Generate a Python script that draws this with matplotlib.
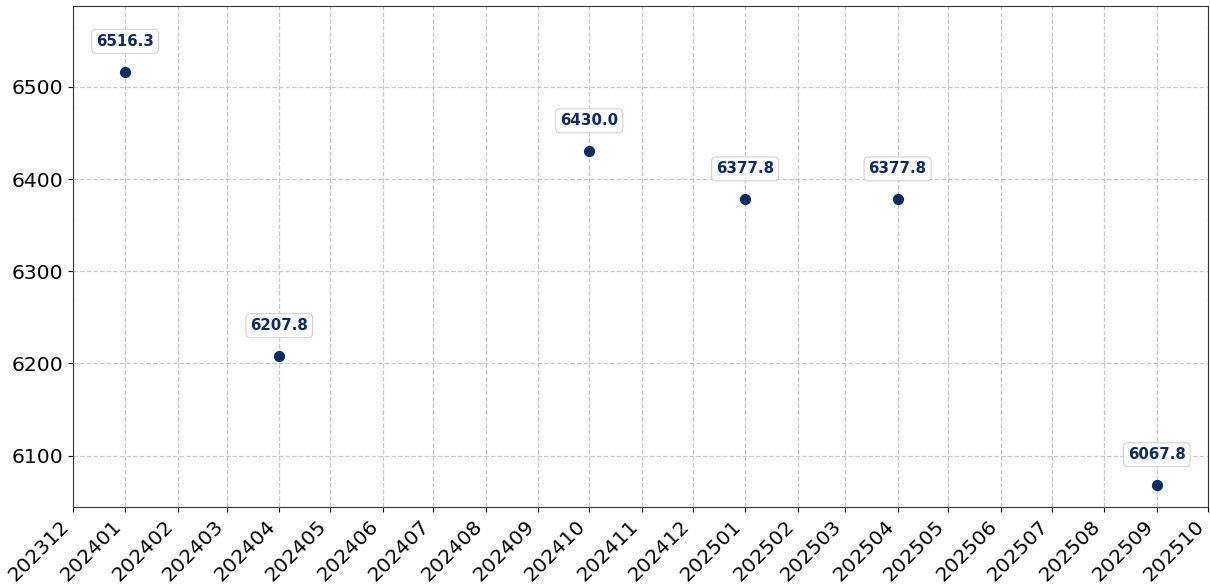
import matplotlib
matplotlib.use("Agg")
import matplotlib.pyplot as plt
import matplotlib.dates as mdates
import numpy as np
from datetime import datetime

# Data
months = ["2024-01", "2024-04", "2024-10", "2025-01", "2025-04", "2025-09"]
values = [6516.3, 6207.8, 6430.0, 6377.8, 6377.8, 6067.8]

dates = [datetime.strptime(m, "%Y-%m") for m in months]
point_color = "#0d2b5e"

fig, ax = plt.subplots(figsize=(12.1, 5.85), dpi=100)
fig.subplots_adjust(left=0.060, right=0.998, top=0.990, bottom=0.134)

ax.scatter(dates, values, s=50, color=point_color, zorder=3)

# Value labels above each point
for d, v in zip(dates, values):
    ax.annotate(f"{v:.1f}", (d, v), xytext=(0, 22), textcoords="offset points",
                ha="center", va="center", fontsize=10.8, fontweight="bold",
                color=point_color,
                bbox=dict(boxstyle="round,pad=0.3", fc="white", ec="#d0d0d0", lw=0.8))

ax.set_xlim(datetime(2023, 12, 1), datetime(2025, 10, 1))
ax.set_ylim(6044.7, 6587.8)
ax.set_yticks([6100, 6200, 6300, 6400, 6500])

ax.xaxis.set_major_locator(mdates.MonthLocator())
ax.xaxis.set_major_formatter(mdates.DateFormatter("%Y%m"))
plt.setp(ax.get_xticklabels(), rotation=45, ha="right")

ax.tick_params(labelsize=14.6)
ax.grid(True, linestyle="--", color="#c8c8c8", linewidth=0.9)
ax.set_axisbelow(True)
for sp in ax.spines.values():
    sp.set_color("#333333")

fig.savefig("out.png", dpi=100)
